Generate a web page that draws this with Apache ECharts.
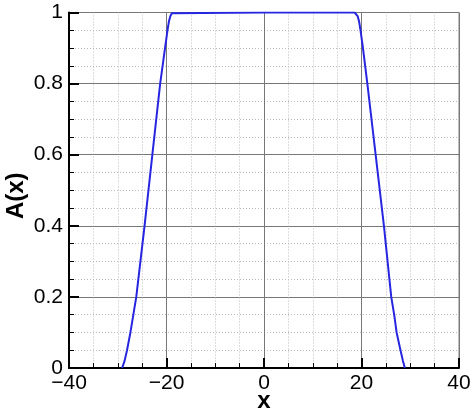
<!DOCTYPE html>
<html>
<head>
<meta charset="utf-8">
<script src="https://cdn.jsdelivr.net/npm/echarts@6/dist/echarts.min.js"></script>
<style>
html,body{margin:0;padding:0;background:#fff;}
#c{width:474px;height:412px;}
</style>
</head>
<body>
<div id="c"></div>
<script>
var xValues = [-29.1, -28.6, -28.1, -27.4, -26.8, -26.2, -24.5, -22.9, -21.3, -20.3, -19.8, -19.5, -19.2, -18.9, -18.6, 0, 18.6, 18.9, 19.2, 19.5, 19.8, 20.3, 21.2, 22.9, 24.6, 26.1, 26.7, 27.2, 28.0, 28.5, 28.9];
var aValues = [0, 0.02, 0.05, 0.10, 0.15, 0.2, 0.4, 0.6, 0.8, 0.9, 0.95, 0.975, 0.99, 0.998, 1, 1, 1, 0.998, 0.99, 0.975, 0.95, 0.9, 0.8, 0.6, 0.4, 0.2, 0.15, 0.1, 0.05, 0.02, 0];
var xTicks = [-40, -20, 0, 20, 40];
var yTicks = [0, 0.2, 0.4, 0.6, 0.8, 1];

var points = xValues.map(function (x, i) { return [x, aValues[i]]; });
var font = 'Liberation Sans, Arial, sans-serif';

var chart = echarts.init(document.getElementById('c'), null, {renderer: 'canvas'});
chart.setOption({
  animation: false,
  grid: {left: 69, right: 15, top: 12.5, bottom: 44, containLabel: false, outerBoundsMode: 'none',
    show: true, borderColor: '#808080', borderWidth: 1, backgroundColor: 'transparent'},
  xAxis: {
    type: 'value', min: xTicks[0], max: xTicks[xTicks.length - 1], interval: 20,
    name: 'x', nameLocation: 'middle', nameGap: 21, nameMoveOverlap: false,
    nameTextStyle: {fontFamily: font, fontSize: 24, fontWeight: 'bold', color: '#000', lineHeight: 24},
    axisLine: {show: true, onZero: false, lineStyle: {color: '#000', width: 2}},
    axisTick: {show: true, inside: true, length: 10, lineStyle: {color: '#000', width: 2}},
    minorTick: {show: true, splitNumber: 4, length: 5, lineStyle: {color: '#000', width: 1}},
    axisLabel: {fontFamily: font, fontSize: 21, color: '#000', margin: 5,
      formatter: function (v) { return String(v).replace('-', '\u2212'); }},
    splitLine: {show: true, lineStyle: {color: '#777', width: 1}},
    minorSplitLine: {show: true, lineStyle: {color: '#bbb', width: 1, type: [1, 2]}}
  },
  yAxis: {
    type: 'value', min: yTicks[0], max: yTicks[yTicks.length - 1], interval: 0.2,
    name: 'A(x)', nameLocation: 'middle', nameGap: 41, nameMoveOverlap: false,
    nameTextStyle: {fontFamily: font, fontSize: 24, fontWeight: 'bold', color: '#000', lineHeight: 24, padding: [0, 11, 0, 0]},
    axisLine: {show: true, onZero: false, lineStyle: {color: '#000', width: 2}},
    axisTick: {show: true, inside: true, length: 10, lineStyle: {color: '#000', width: 2}},
    minorTick: {show: true, splitNumber: 4, length: 5, lineStyle: {color: '#000', width: 1}},
    axisLabel: {fontFamily: font, fontSize: 21, color: '#000', margin: 6},
    splitLine: {show: true, lineStyle: {color: '#777', width: 1}},
    minorSplitLine: {show: true, lineStyle: {color: '#bbb', width: 1, type: [1, 2]}}
  },
  series: [{
    type: 'line', data: points, showSymbol: false, smooth: false,
    lineStyle: {color: '#2626e0', width: 2}, z: 3
  }]
});
</script>
</body>
</html>
